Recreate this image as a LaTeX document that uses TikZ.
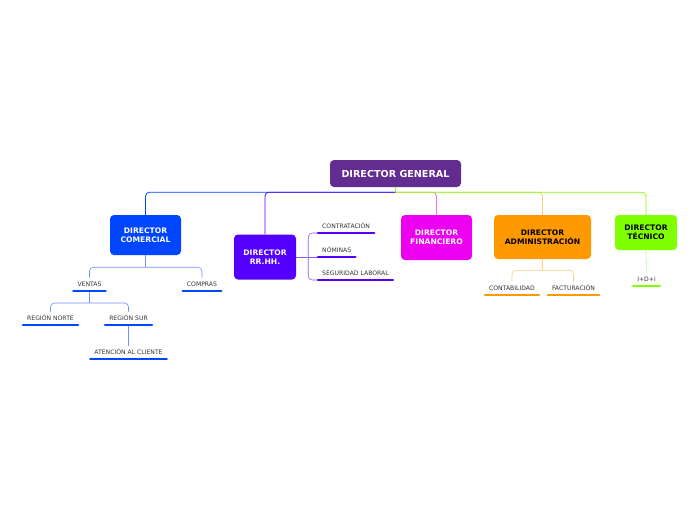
\documentclass[tikz,border=0pt]{standalone}
\usepackage{fontspec}
\setmainfont{DejaVu Sans}
\usetikzlibrary{positioning}

\definecolor{cGen}{RGB}{98,44,145}
\definecolor{cCom}{RGB}{0,70,255}
\definecolor{cComL}{RGB}{110,145,255}
\definecolor{cRRHH}{RGB}{85,0,255}
\definecolor{cRRHHL}{RGB}{140,90,255}
\definecolor{cFin}{RGB}{235,0,240}
\definecolor{cFinL}{RGB}{240,110,240}
\definecolor{cAdm}{RGB}{255,153,0}
\definecolor{cAdmL}{RGB}{255,205,130}
\definecolor{cTec}{RGB}{128,255,0}
\definecolor{cTecL}{RGB}{175,255,110}

\tikzset{
    director/.style={rounded corners=4pt, text=white, align=center, inner sep=0pt,
        font=\bfseries\fontsize{7.6}{9}\selectfont},
    tarea/.style={font=\fontsize{6.1}{7}\selectfont, text=black!80, inner xsep=4pt,
        inner ysep=2pt, text height=4.5pt, text depth=2.5pt, anchor=south},
    raya/.style={draw=#1, line width=2.5pt, line cap=round},
    rama/.style={draw=#1, line width=0.8pt, rounded corners=4pt},
    subrama/.style={draw=#1, line width=0.6pt, rounded corners=4pt, shorten >=2pt},
}

\begin{document}
\begin{tikzpicture}[x=1pt, y=-1pt]
                    \useasboundingbox (0,0) rectangle (696,520);

                    \node [director, fill=cGen, minimum width=131pt, minimum height=27pt,
                        font=\bfseries\fontsize{9.6}{10}\selectfont] (gen) at (395.5,173.5) {DIRECTOR GENERAL};
                    \node [director, fill=cCom, minimum width=71pt, minimum height=40pt] (com) at (145.5,235) {DIRECTOR\\COMERCIAL};
                    \node [director, fill=cRRHH, minimum width=62pt, minimum height=45pt] (rrhh) at (265,257) {DIRECTOR\\RR.HH.};
                    \node [director, fill=cFin, minimum width=71pt, minimum height=45pt] (fin) at (436.5,237.5) {DIRECTOR\\FINANCIERO};
                    \node [director, fill=cAdm, text=black, minimum width=97pt, minimum height=44pt] (adm) at (542.5,237) {DIRECTOR\\ADMINISTRACIÓN};
                    \node [director, fill=cTec, text=black, minimum width=62pt, minimum height=35pt] (tec) at (646,232.5) {DIRECTOR\\TÉCNICO};

                    \node [tarea] (ventas) at (89.5,291) {VENTAS};
                    \node [tarea] (compras) at (202,291) {COMPRAS};
                    \node [tarea] (norte) at (50.5,325) {REGIÓN NORTE};
                    \node [tarea] (sur) at (128.5,325) {REGIÓN SUR};
                    \node [tarea] (cliente) at (128.5,359) {ATENCIÓN AL CLIENTE};
                    \node [tarea, anchor=south west] (contr) at (318,233) {CONTRATACIÓN};
                    \node [tarea, anchor=south west] (nom) at (318,257) {NÓMINAS};
                    \node [tarea, anchor=south west] (segur) at (318,280) {SEGURIDAD LABORAL};
                    \node [tarea] (contab) at (512,295) {CONTABILIDAD};
                    \node [tarea] (fact) at (573.5,295) {FACTURACIÓN};
                    \node [tarea] (idi) at (646.5,286) {I+D+i};

                    \path (gen.south) ++(0,5) coordinate (genJ);
                    \path (com.south) ++(0,12) coordinate (comJ);
                    \path (ventas.south) ++(0,12) coordinate (ventasJ);
                    \path (rrhh.east) ++(12,0) coordinate (rrhhJ);
                    \path (adm.south) ++(0,11) coordinate (admJ);

                    \draw [rama=cCom] (genJ) -| (com.north);
                    \draw [rama=cRRHH] (genJ) -| (rrhh.north);
                    \draw [rama=cFinL] (genJ) -| (fin.north);
                    \draw [rama=cAdmL] (genJ) -| (adm.north);
                    \draw [rama=cTec] (genJ) -| (tec.north);
                    \draw [rama=cTec] (gen.south) -- (genJ);

                    \draw [subrama=cComL, shorten >=0pt] (com.south) -- (comJ);
                    \draw [subrama=cComL] (comJ) -| (ventas.north);
                    \draw [subrama=cComL] (comJ) -| (compras.north);
                    \draw [subrama=cComL, shorten >=0pt] (ventas.south) -- (ventasJ);
                    \draw [subrama=cComL] (ventasJ) -| (norte.north);
                    \draw [subrama=cComL] (ventasJ) -| (sur.north);
                    \draw [subrama=cComL] (sur.south) -- (cliente.north);
                    \draw [subrama=cRRHHL, shorten >=0pt] (rrhh.east) -- (nom.south west);
                    \draw [subrama=cRRHHL, shorten >=0pt] (rrhhJ) |- (contr.south west);
                    \draw [subrama=cRRHHL, shorten >=0pt] (rrhhJ) |- (segur.south west);
                    \draw [subrama=cAdmL, shorten >=0pt] (adm.south) -- (admJ);
                    \draw [subrama=cAdmL] (admJ) -| (contab.north);
                    \draw [subrama=cAdmL] (admJ) -| (fact.north);
                    \draw [subrama=cTecL] (tec.south) -- (idi.north);

                    \foreach \n/\c in {ventas/cCom, compras/cCom, norte/cCom, sur/cCom, cliente/cCom,
                        contr/cRRHH, nom/cRRHH, segur/cRRHH, contab/cAdm, fact/cAdm, idi/cTec}
                        \draw [raya=\c] (\n.south west) -- (\n.south east);
\end{tikzpicture}
\end{document}
